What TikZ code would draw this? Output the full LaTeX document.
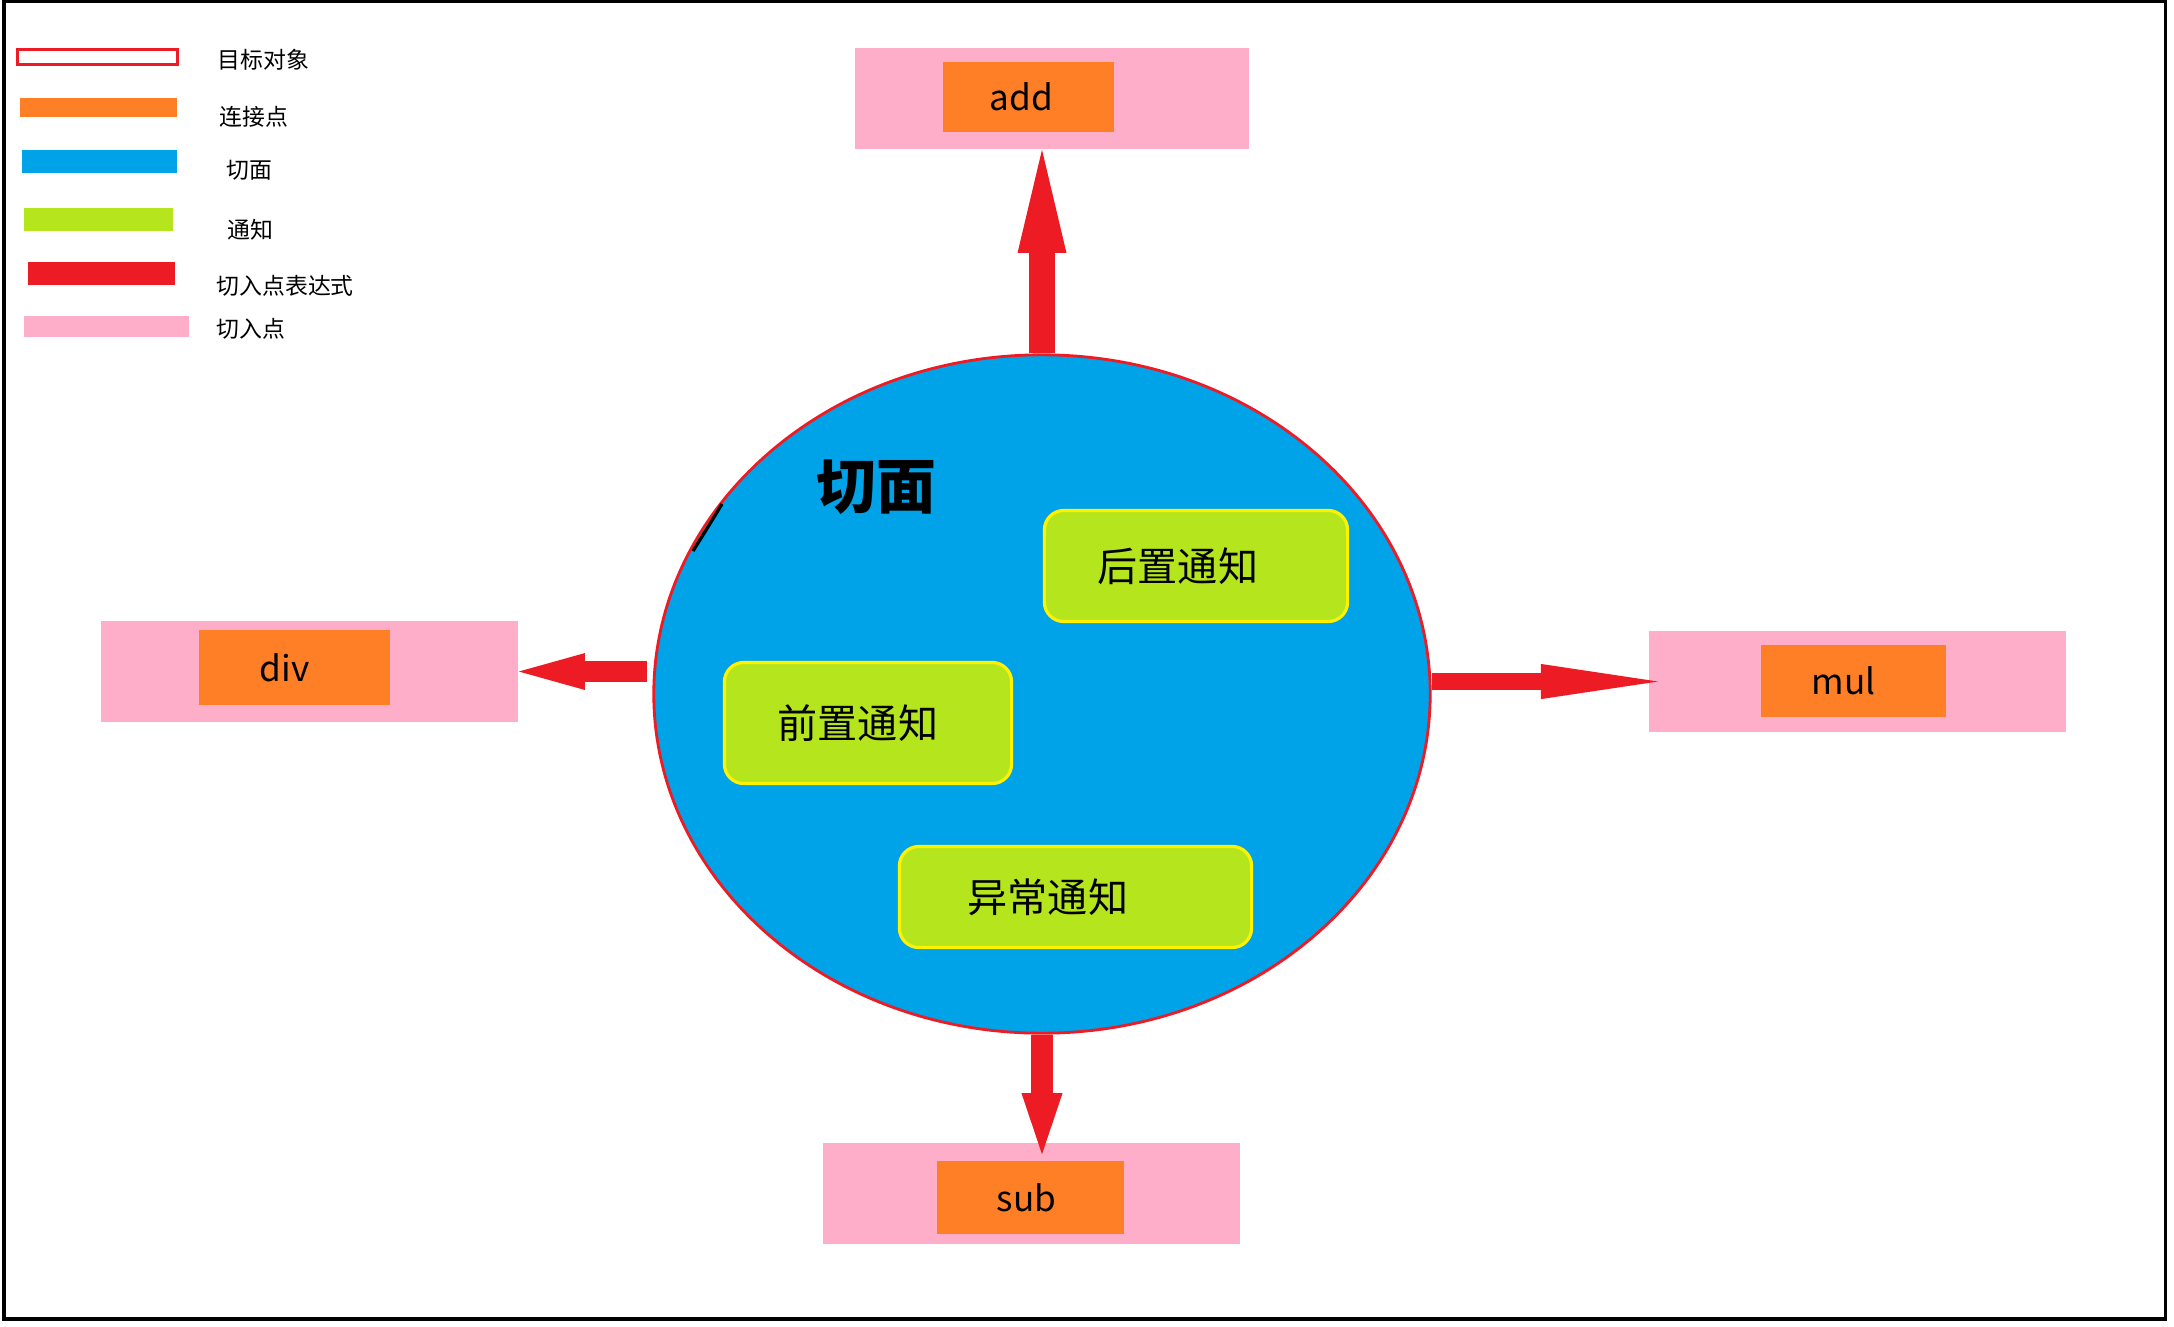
\documentclass[tikz,border=0pt]{standalone}
\usepackage{fontspec}
\setmainfont{Noto Sans CJK SC}
\usepackage{xcolor}
\usepackage{tikz}
\usetikzlibrary{shapes.geometric, arrows.meta, positioning}
\definecolor{cutred}{RGB}{237,28,36}
\definecolor{jporange}{RGB}{255,127,39}
\definecolor{aspblue}{RGB}{0,162,232}
\definecolor{advgreen}{RGB}{181,230,29}
\definecolor{advyellow}{RGB}{255,242,0}
\definecolor{pcpink}{RGB}{255,174,201}
\tikzstyle{pointcut} = [rectangle, minimum width=4.17cm, minimum height=1.01cm, fill=pcpink, inner sep=0pt]
\tikzstyle{joinpoint} = [rectangle, minimum height=0.72cm, fill=jporange, inner sep=0pt, font=\fontsize{10}{12}\selectfont]
\tikzstyle{advice} = [rectangle, rounded corners=5.5pt, draw=advyellow, line width=0.9pt, fill=advgreen, inner sep=0pt, font=\fontsize{11.4}{13}\selectfont]
\tikzstyle{swatch} = [rectangle, inner sep=0pt, minimum height=0.23cm]
\tikzstyle{legendtext} = [anchor=west, inner sep=0pt, font=\fontsize{6.5}{8}\selectfont]
\tikzset{cutarrow/.style n args={3}{draw=cutred, line width=#1, -{Triangle[width=#2, length=#3, line width=0pt]}}}

\begin{document}
\begin{tikzpicture}[x=0.01cm, y=-0.01cm]
    \useasboundingbox (0,0) rectangle (2174,1326);
    \draw[line width=1pt] (4,1.5) rectangle (2165.5,1319);

    % Legende
    \node (tgtbox) [swatch, draw=cutred, line width=0.8pt, minimum width=1.6cm, minimum height=0.155cm] at (97.5,57) {};
    \node (jpbox) [swatch, fill=jporange, minimum width=1.57cm, minimum height=0.19cm] at (98.5,107.5) {};
    \node (aspbox) [swatch, fill=aspblue, minimum width=1.55cm] at (99.5,161.5) {};
    \node (advbox) [swatch, fill=advgreen, minimum width=1.49cm] at (98.5,219.5) {};
    \node (exprbox) [swatch, fill=cutred, minimum width=1.47cm] at (101.5,273.5) {};
    \node (pcbox) [swatch, fill=pcpink, minimum width=1.65cm, minimum height=0.21cm] at (106.5,326.5) {};
    \node (tgttext) [legendtext] at (217,60) {目标对象};
    \node (jptext) [legendtext] at (219,117) {连接点};
    \node (asptext) [legendtext] at (226,170) {切面};
    \node (advtext) [legendtext] at (227,230) {通知};
    \node (exprtext) [legendtext] at (216,286) {切入点表达式};
    \node (pctext) [legendtext] at (216,329) {切入点};

    %切面
    \node (aspect) [ellipse, minimum width=7.76cm, minimum height=6.78cm, inner sep=0pt, fill=aspblue, draw=cutred, line width=0.8pt] at (1042,694) {};
    \draw[black, line width=0.9pt] (693,551) -- (708,527) -- (722,504);
    \node (asptitle) [font=\bfseries\fontsize{17}{19}\selectfont] at (876,487) {切面};

    % 通知
    \node (after) [advice, minimum width=3.03cm, minimum height=1.11cm] at (1196,566) {后置通知\hspace*{0.36cm}};
    \node (before) [advice, minimum width=2.87cm, minimum height=1.21cm] at (868,723) {前置通知\hspace*{0.2cm}};
    \node (throw) [advice, minimum width=3.52cm, minimum height=1.01cm] at (1075.5,897) {异常通知\hspace*{0.55cm}};

    % 切入点
    \node (addpc) [pointcut, minimum width=3.94cm] at (1052,98.5) {};
    \node (add) [joinpoint, minimum width=1.71cm, minimum height=0.69cm] at (1028.5,97) {add\hspace*{0.14cm}};
    \node (mulpc) [pointcut] at (1857.5,681.5) {};
    \node (mul) [joinpoint, minimum width=1.85cm, minimum height=0.71cm] at (1853.5,681) {mul\hspace*{0.2cm}};
    \node (divpc) [pointcut] at (309.5,671.5) {};
    \node (div) [joinpoint, minimum width=1.91cm, minimum height=0.75cm] at (294.5,667.5) {div\hspace*{0.2cm}};
    \node (subpc) [pointcut] at (1031.5,1193.5) {};
    \node (sub) [joinpoint, minimum width=1.87cm, minimum height=0.73cm] at (1030.5,1197.5) {sub\hspace*{0.08cm}};

    % 切入点表达式
    \draw [cutarrow={7.4pt}{13.9pt}{29.3pt}] (aspect.north) -- (aspect.north |- addpc.south);
    \draw [cutarrow={5.1pt}{10pt}{33.3pt}, shorten >=-2.8pt] (aspect.east |- mulpc.west) -- (mulpc.west);
    \draw [cutarrow={5.7pt}{10.5pt}{18.8pt}, shorten <=1.4pt] (aspect.west |- divpc.east) -- (divpc.east);
    \draw [cutarrow={6.3pt}{11.7pt}{17.4pt}, shorten >=-3.4pt] (aspect.south) -- (aspect.south |- subpc.north);
\end{tikzpicture}
\end{document}
